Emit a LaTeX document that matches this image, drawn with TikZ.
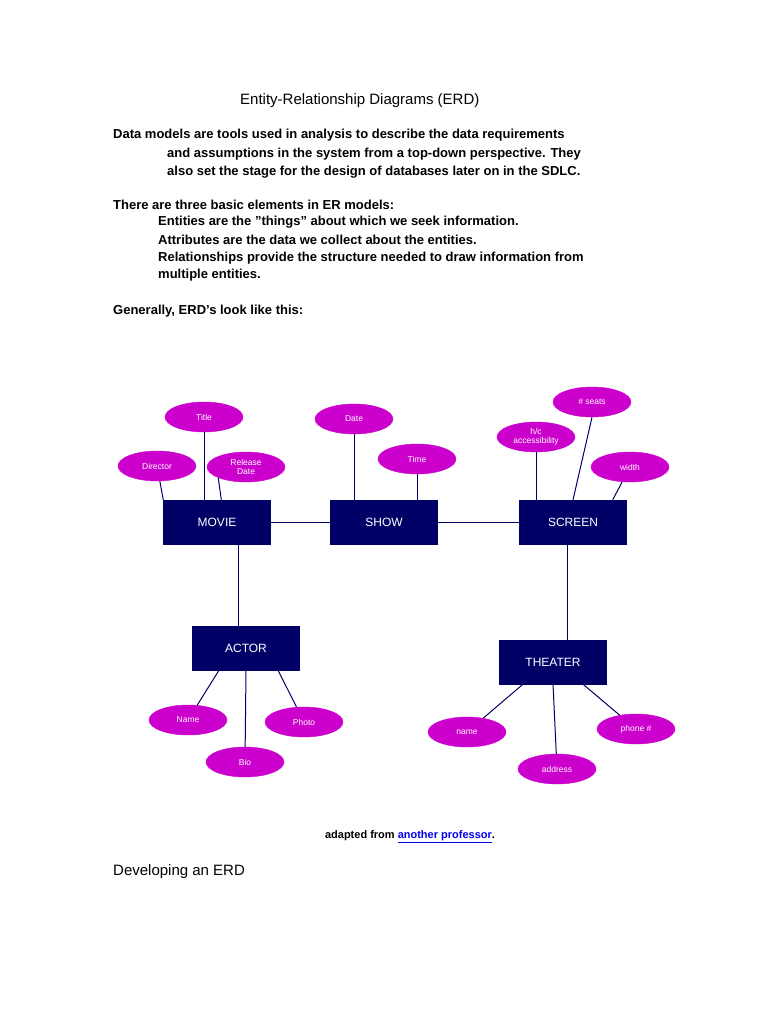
\documentclass[tikz,border=0pt]{standalone}
\usepackage{fontspec}
\setmainfont{Liberation Sans}
\usetikzlibrary{shapes.geometric}
\definecolor{ent}{HTML}{000066}
\definecolor{att}{HTML}{CC00CC}
\definecolor{lnk}{HTML}{0000EE}
\begin{document}
\begin{tikzpicture}[x=1pt,y=-1pt,
  entbox/.style={draw=ent,fill=ent,text=white,minimum width=107pt,minimum height=44pt,inner sep=0pt,font=\fontsize{12}{14}\selectfont},
  attr/.style={ellipse,fill=att,draw=att,text=white,minimum width=78pt,minimum height=30pt,inner sep=0pt,align=center,font=\fontsize{8.5}{9}\selectfont},
  txt/.style={anchor=west,inner sep=0pt,font=\fontsize{13}{15}\selectfont\bfseries},
  conn/.style={draw=ent,line width=1pt}]
\useasboundingbox (0,0) rectangle (768,1024);
\fill[white] (0,0) rectangle (768,1024);
% texts
\node[txt,font=\fontsize{15}{17}\selectfont] (h1) at (240,101) {Entity-Relationship Diagrams (ERD)};
\node[txt] (p1) at (113,135) {Data models are tools used in analysis to describe the data requirements};
\node[txt] (p2) at (167,154) {and assumptions in the system from a top-down perspective. They};
\node[txt] (p3) at (167,172) {also set the stage for the design of databases later on in the SDLC.};
\node[txt] (p4) at (113,205) {There are three basic elements in ER models:};
\node[txt] (p5) at (158,222) {Entities are the ''things'' about which we seek information.};
\node[txt] (p6) at (158,240) {Attributes are the data we collect about the entities.};
\node[txt] (p7) at (158,258) {Relationships provide the structure needed to draw information from};
\node[txt] (p8) at (158,275) {multiple entities.};
\node[txt] (p9) at (113,311) {Generally, ERD's look like this:};
\node[txt,anchor=center,font=\fontsize{11}{13}\selectfont\bfseries] (ad) at (410,837) {adapted from \textcolor{lnk}{\underline{another professor}}.};
\node[txt,font=\fontsize{15}{17}\selectfont] (dev) at (113,872) {Developing an ERD};
% entities
\node[entbox] (movie) at (217,522) {MOVIE};
\node[entbox] (show) at (384,522) {SHOW};
\node[entbox] (screen) at (573,522) {SCREEN};
\node[entbox] (actor) at (246,648) {ACTOR};
\node[entbox] (theater) at (553,662) {THEATER};
% attributes
\node[attr] (title) at (204,417) {Title};
\node[attr] (director) at (157,466) {Director};
\node[attr] (rdate) at (246,467) {Release\\Date};
\node[attr] (date) at (354,419) {Date};
\node[attr] (time) at (417,459) {Time};
\node[attr] (hc) at (536,437) {h/c\\accessibility};
\node[attr] (seats) at (592,402) {\# seats};
\node[attr] (width) at (630,467) {width};
\node[attr] (aname) at (188,720) {Name};
\node[attr] (photo) at (304,722) {Photo};
\node[attr] (bio) at (245,762) {Bio};
\node[attr] (tname) at (467,732) {name};
\node[attr] (addr) at (557,769) {address};
\node[attr] (phone) at (636,729) {phone \#};
% connectors
\draw[conn] (movie) -- (show);
\draw[conn] (show) -- (screen);
\draw[conn] (title.south) -- (title.south |- movie.north);
\draw[conn] (director) -- (movie.north west);
\draw[conn] (rdate.south west) -- ([xshift=3pt]rdate.south west |- movie.north);
\draw[conn] (date.south) -- (date.south |- show.north);
\draw[conn] (time.south) -- (time.south |- show.north);
\draw[conn] (hc.south) -- (hc.south |- screen.north);
\draw[conn] (seats.south) -- (screen.north);
\draw[conn] (width) -- ([xshift=-14pt]screen.north east);
\draw[conn] ([xshift=21pt]movie.south) -- ([xshift=21pt]movie.south |- actor.north);
\draw[conn] ([xshift=-6pt]screen.south) -- ([xshift=-6pt]screen.south |- theater.north);
\draw[conn] ([xshift=-27pt]actor.south) -- (aname);
\draw[conn] (actor.south) -- (bio);
\draw[conn] ([xshift=32pt]actor.south) -- (photo);
\draw[conn] ([xshift=-30pt]theater.south) -- (tname);
\draw[conn] (theater.south) -- (addr);
\draw[conn] ([xshift=30pt]theater.south) -- (phone);
\end{tikzpicture}
\end{document}
